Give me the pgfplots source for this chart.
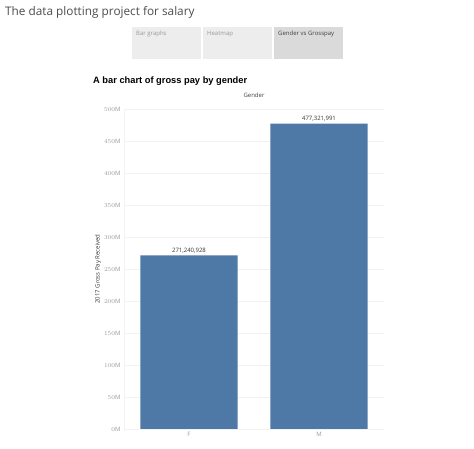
\documentclass[border=0pt]{standalone}
\usepackage{pgfplots}
\pgfplotsset{compat=1.18}
\usepackage{fontspec}
\setmainfont{Open Sans}
\newfontfamily\arialfont{Liberation Sans}
\definecolor{barblue}{HTML}{4E79A7}
\definecolor{tickgray}{HTML}{9A9A9A}
\definecolor{gridgray}{HTML}{F2F2F2}
\definecolor{tabA}{HTML}{EDEDED}
\definecolor{tabB}{HTML}{DADADA}
\begin{document}
\begin{tikzpicture}[x=1pt,y=1pt]
  % canvas in pixel units, y measured from the bottom
  \path (0,0) rectangle (474,449);
  \node[anchor=west, text=black!70, font=\fontsize{11.8}{14}\selectfont, inner sep=0pt] at (5,437) {The data plotting project for salary};
  % dashboard tabs
  \fill[tabA] (132,390) rectangle (201,422);
  \fill[tabA] (203,390) rectangle (272,422);
  \fill[tabB] (274,390) rectangle (343,422);
  \node[anchor=north west, text=black!40, font=\fontsize{6}{7}\selectfont, inner sep=0pt] at (136,418) {Bar graphs};
  \node[anchor=north west, text=black!40, font=\fontsize{6}{7}\selectfont, inner sep=0pt] at (207,418) {Heatmap};
  \node[anchor=north west, text=black!75, font=\fontsize{6}{7}\selectfont, inner sep=0pt] at (278,418) {Gender vs Grosspay};
  \node[anchor=west, font=\arialfont\bfseries\fontsize{9.3}{11}\selectfont, inner sep=0pt] at (93,368) {A bar chart of gross pay by gender};
  \node[text=black!75, font=\fontsize{6}{7}\selectfont, inner sep=0pt] at (254,354) {Gender};
  \begin{axis}[
      at={(124pt,20pt)}, anchor=south west,
      scale only axis, width=260pt, height=320pt,
      xmin=-0.5, xmax=1.5,
      ymin=0, ymax=500,
      xtick={0,1}, xticklabels={F,M},
      ytick={0,50,...,500},
      yticklabel={\pgfmathprintnumber{\tick}M},
      major tick length=0pt,
      tick label style={text=tickgray, font=\fontsize{6}{7}\selectfont},
      ymajorgrids, grid style={gridgray, line width=0.5pt},
      axis line style={gridgray},
      axis x line*=bottom, axis y line*=left,
      ylabel={2017 Gross Pay Received},
      every axis y label/.style={at={(axis description cs:-0.1,0.5)}, rotate=90, anchor=center,
        font=\fontsize{6}{7}\selectfont, text=black!80},
      ybar, bar width=97pt,
      nodes near coords,
      point meta=explicit symbolic,
      every node near coord/.append style={font=\fontsize{6}{7}\selectfont, text=black!80, inner sep=2pt},
    ]
    \addplot[fill=barblue, draw=none] coordinates {
      (0,271.240928) [271,240,928]
      (1,477.321991) [477,321,991]
    };
  \end{axis}
\end{tikzpicture}
\end{document}
